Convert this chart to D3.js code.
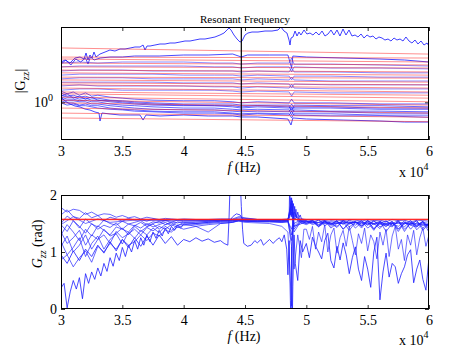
<!DOCTYPE html>
<html><head><meta charset="utf-8">
<script src="https://cdn.jsdelivr.net/npm/d3@7"></script>
<style>
html,body{margin:0;padding:0;background:#fff;}
svg{display:block;}
</style>
</head><body>
<svg id="c" width="474" height="355"></svg>
<script>
// ---------------- DATA ----------------
const xTickValues = [30000,35000,40000,45000,50000,55000,60000];
const xTickLabels = ["3","3.5","4","4.5","5","5.5","6"];
const phaseTickValues = [0,1,2];
const resonantFreq = 44700;

// top panel: fitted (red) magnitude lines, start/end values
const redFreq = [30000, 60000];
const redMagStart = [2.72,2.30,2.22,2.06,1.92,1.81,1.72,1.59,1.51,1.43,1.38,1.30,1.21,1.17,1.10,1.04,0.99,0.90,0.82,0.75];
const redMagEnd   = [2.43,2.26,2.10,1.99,1.88,1.75,1.65,1.56,1.45,1.38,1.30,1.21,1.14,1.08,1.01,0.95,0.90,0.82,0.76,0.70];

// top panel: measured magnitude lines
const t1Freq = [30000,30330,30730,31140,31550,31880,32040,32200,32360,32530,32690,32850,33180,33590,33990,34400,34810,35220,35630,36030,36440,36690,36850,37010,37260,37660,38070,38480,38890,39290,39700,40110,40520,40920,41330,41740,42150,42550,42960,43290,43530,43700,43860,44100,44350,44590,44760,45000,45240,45570,46060,46630,47200,47690,47930,48180,48420,48590,48670,48750,48910,49080,49240,49400,49560,49810,50050,50300,50540,50790,51030,51280,51520,51770,52010,52250,52500,52740,52990,53230,53480,53720,53970,54210,54460,54700,54950,55190,55430,55680,55920,56170,56410,56660,56900,57150,57390,57640,57880,58120,58370,58610,58860,59100,59350,59590,59840,60000];
const t1Mag = [2.100,2.179,2.062,2.261,2.303,2.219,2.478,2.179,2.389,2.261,2.524,2.303,2.433,2.524,2.619,2.571,2.668,2.668,2.717,2.768,2.768,2.871,2.619,2.819,2.819,2.871,2.925,2.925,2.979,2.979,3.034,3.091,3.091,3.148,3.207,3.207,3.266,3.327,3.452,3.581,3.784,3.926,3.784,3.452,3.207,3.034,3.091,3.452,3.581,3.647,3.647,3.715,3.715,3.784,4.000,3.715,3.581,3.148,2.871,3.266,3.327,3.715,3.389,3.647,3.452,3.784,3.516,3.581,3.452,3.647,3.452,3.715,3.389,3.516,3.784,3.452,3.784,3.389,3.854,3.452,3.784,3.389,3.452,3.327,3.516,3.266,3.452,3.327,3.389,3.207,3.327,3.266,3.148,3.207,3.091,3.266,3.148,3.207,3.091,3.327,3.091,2.979,3.148,2.925,3.091,2.871,2.979,2.819];

const t2Freq = [30000,30400,30800,31200,31600,32000,32200,32400,32700,33200,34000,35000,36000,38000,40000,42000,44000,44700,45200,47000,48500,48800,48900,50000,53000,56000,58000,60000];
const t2Mag = [2.024,2.179,1.987,2.219,2.100,2.261,2.024,2.303,2.179,2.261,2.303,2.303,2.345,2.345,2.389,2.389,2.433,2.303,2.389,2.389,2.389,1.881,2.345,2.303,2.261,2.219,2.179,2.100];

const lowFreq = [30000,30330,30730,31140,31550,31960,32360,32770,33100,33180,33340,34000,34810,35630,36440,36690,36930,38070,40000,42000,44000,44700,46000,48500,48750,48900,50000,53000,56000,58000,60000];
const lowMag = [1.103,1.025,0.970,0.935,0.918,0.884,0.868,0.837,0.822,0.709,0.822,0.807,0.792,0.792,0.792,0.722,0.792,0.778,0.792,0.778,0.778,0.764,0.764,0.736,0.659,0.750,0.736,0.722,0.709,0.696,0.696];

const midFreq = [30000,31500,33000,35000,37500,40000,42500,44000,44700,46000,48600,48800,49000,52000,56000,60000];
const midMag = [
 [2.06,2.10,2.06,2.10,2.10,2.10,2.06,2.06,2.02,2.06,2.06,2.26,2.02,2.02,1.99,1.95],
 [1.92,1.95,1.95,1.95,1.95,1.95,1.92,1.92,1.88,1.92,1.92,1.75,1.92,1.88,1.88,1.85],
 [1.78,1.81,1.81,1.81,1.78,1.78,1.78,1.78,1.75,1.78,1.75,1.88,1.75,1.75,1.72,1.72],
 [1.65,1.68,1.68,1.68,1.68,1.65,1.65,1.65,1.62,1.65,1.62,1.51,1.62,1.62,1.59,1.59],
 [1.54,1.57,1.57,1.57,1.54,1.54,1.54,1.54,1.51,1.54,1.51,1.59,1.51,1.48,1.48,1.48],
 [1.45,1.45,1.45,1.45,1.45,1.43,1.43,1.43,1.40,1.43,1.40,1.30,1.40,1.38,1.38,1.38],
 [1.35,1.38,1.35,1.35,1.35,1.35,1.33,1.33,1.30,1.33,1.30,1.40,1.30,1.28,1.28,1.28],
 [1.25,1.28,1.28,1.25,1.25,1.25,1.25,1.23,1.21,1.23,1.21,1.12,1.21,1.19,1.19,1.19]
];

const bundleFreq = [30000,30500,31000,31500,32000,32500,33000,34000,35000,36000,37500,40000,42500,44000,44700,46000,48600,48800,49000,52000,56000,60000];
const bundleMag = [
 [1.23,1.17,1.21,1.14,1.19,1.12,1.14,1.10,1.08,1.06,1.04,1.03,1.03,1.01,0.99,1.01,0.99,1.06,0.99,0.99,0.97,0.97],
 [1.19,1.12,1.14,1.10,1.12,1.08,1.08,1.04,1.03,1.01,0.99,0.97,0.97,0.97,0.95,0.95,0.95,0.87,0.95,0.94,0.94,0.92],
 [1.14,1.10,1.10,1.06,1.08,1.04,1.04,1.01,0.99,0.97,0.95,0.94,0.94,0.92,0.90,0.92,0.90,0.97,0.90,0.90,0.88,0.88],
 [1.10,1.06,1.06,1.03,1.04,1.01,1.01,0.97,0.95,0.94,0.92,0.90,0.90,0.88,0.87,0.88,0.87,0.79,0.87,0.85,0.85,0.84],
 [1.06,1.03,1.03,1.01,1.01,0.97,0.97,0.94,0.92,0.90,0.88,0.87,0.87,0.85,0.84,0.85,0.84,0.92,0.84,0.84,0.82,0.82],
 [1.03,0.99,0.99,0.95,0.97,0.94,0.94,0.90,0.88,0.87,0.85,0.84,0.84,0.82,0.81,0.82,0.81,0.75,0.81,0.81,0.79,0.79],
 [0.99,0.95,0.97,0.94,0.94,0.92,0.90,0.88,0.87,0.85,0.84,0.82,0.82,0.81,0.79,0.81,0.79,0.85,0.79,0.78,0.78,0.76],
 [1.12,1.17,1.08,1.12,1.06,1.10,1.04,1.03,1.01,0.99,0.97,0.95,0.94,0.94,0.92,0.94,0.92,0.84,0.92,0.92,0.90,0.90]
];

// bottom panel: phase
const phaseFitFreq = [30000, 60000];
const phaseFitStart = [1.566, 1.571, 1.576];
const phaseFitEnd   = [1.566, 1.571, 1.576];

const phaseFreq = [30000,30500,31000,31500,32000,32500,33000,33500,34000,34500,35000,35500,36000,36500,37000,37500,38000,38500,39000,39500,40000,41000,42000,43000,44000,44500,45000,46000,47000,48000,48500,48800,49000,49500,50000,50500,51000,51500,52000,52500,53000,53500,54000,54500,55000,55500,56000,56500,57000,57500,58000,58500,59000,59500,60000];
const phaseLines = [
 [1.78,1.70,1.75,1.73,1.66,1.70,1.64,1.67,1.66,1.61,1.64,1.60,1.62,1.58,1.61,1.59,1.57,1.59,1.58,1.57,1.58, 1.57,1.57,1.58,1.58,1.62,1.60,1.57,1.57,1.57,1.58,1.75,1.62,1.58, 1.57,1.56,1.57,1.55,1.57,1.56,1.55,1.57,1.56,1.54,1.57,1.55,1.56,1.53,1.57,1.55,1.56,1.52,1.56,1.55,1.54],
 [1.65,1.74,1.62,1.59,1.69,1.60,1.64,1.55,1.61,1.58,1.54,1.59,1.56,1.57,1.54,1.58,1.56,1.55,1.57,1.56,1.57, 1.57,1.56,1.57,1.57,1.60,1.59,1.57,1.56,1.56,1.57,1.90,1.50,1.56, 1.55,1.52,1.56,1.50,1.55,1.53,1.49,1.56,1.51,1.55,1.47,1.54,1.50,1.55,1.46,1.53,1.49,1.55,1.44,1.52,1.50],
 [1.50,1.63,1.55,1.42,1.58,1.49,1.44,1.56,1.50,1.47,1.54,1.49,1.52,1.55,1.48,1.53,1.51,1.55,1.52,1.56,1.55, 1.55,1.54,1.56,1.56,1.58,1.57,1.56,1.56,1.55,1.56,1.30,1.65,1.55, 1.53,1.56,1.48,1.54,1.51,1.45,1.55,1.50,1.53,1.42,1.55,1.48,1.52,1.45,1.54,1.40,1.51,1.48,1.55,1.38,1.50],
 [1.48,1.36,1.55,1.45,1.33,1.50,1.40,1.47,1.43,1.51,1.40,1.49,1.46,1.52,1.45,1.50,1.54,1.48,1.53,1.51,1.54, 1.54,1.55,1.55,1.56,1.57,1.56,1.55,1.55,1.55,1.56,1.85,1.45,1.55, 1.50,1.55,1.45,1.53,1.48,1.55,1.40,1.52,1.47,1.55,1.42,1.50,1.54,1.36,1.50,1.45,1.55,1.40,1.52,1.46,1.48],
 [1.30,1.48,1.35,1.20,1.40,1.28,1.46,1.38,1.30,1.44,1.40,1.35,1.47,1.42,1.50,1.44,1.48,1.52,1.46,1.53,1.51, 1.52,1.54,1.55,1.55,1.56,1.55,1.55,1.55,1.54,1.55,1.10,1.70,1.55, 1.54,1.50,1.56,1.46,1.53,1.50,1.55,1.44,1.52,1.49,1.55,1.40,1.53,1.48,1.50,1.55,1.36,1.52,1.47,1.54,1.43],
 [1.35,1.15,1.25,1.38,1.12,1.30,1.22,1.40,1.28,1.33,1.42,1.30,1.45,1.36,1.44,1.49,1.40,1.48,1.51,1.46,1.52, 1.50,1.52,1.53,1.54,1.56,1.55,1.54,1.54,1.54,1.55,1.95,1.40,1.54, 1.52,1.55,1.47,1.54,1.50,1.43,1.55,1.49,1.53,1.45,1.55,1.50,1.41,1.54,1.47,1.52,1.44,1.55,1.39,1.50,1.46],
 [1.10,1.28,1.00,1.12,1.30,1.05,1.22,1.30,1.15,1.36,1.25,1.32,1.40,1.30,1.43,1.37,1.45,1.40,1.48,1.43,1.47, 1.48,1.50,1.52,1.53,1.55,1.54,1.54,1.54,1.53,1.54,1.20,1.60,1.53, 1.55,1.48,1.52,1.55,1.45,1.53,1.49,1.55,1.42,1.52,1.48,1.55,1.44,1.50,1.53,1.40,1.51,1.48,1.55,1.42,1.50],
 [1.18,0.95,1.08,1.25,0.92,1.15,1.28,1.05,1.22,1.32,1.14,1.35,1.24,1.38,1.30,1.42,1.34,1.45,1.38,1.47,1.49, 1.45,1.48,1.50,1.52,1.55,1.54,1.53,1.53,1.52,1.53,1.70,1.35,1.52, 1.50,1.54,1.44,1.52,1.48,1.55,1.40,1.50,1.54,1.46,1.52,1.38,1.54,1.48,1.44,1.55,1.40,1.50,1.46,1.53,1.35],
 [0.86,0.95,0.74,0.90,1.02,0.82,1.10,1.00,1.15,1.05,1.22,1.12,1.18,1.30,1.20,1.33,1.28,1.38,1.35,1.44,1.40, 1.45,1.35,1.50,1.52,1.55,1.54,1.53,1.53,1.52,1.53,1.40,1.60,1.52, 1.48,1.53,1.45,1.55,1.42,1.50,1.53,1.38,1.52,1.46,1.55,1.41,1.50,1.45,1.53,1.36,1.52,1.47,1.44,1.54,1.40]
];

const l1Freq = [30000,30250,30500,30750,31000,31250,31500,31750,32000,32250,32500,32750,33000,33250,33500,33750,34000,34250,34500,34750,35000,35250,35500,35750,36000,36250,36500,36750,37000,37250,37500,37750,38000,38250,38500,38750,39000,39250,39500,39750,40000,41000,42000,43000,43800,44000,44300,44600,44800,46000,47000,48000,48500,48800,49000,50000,52000,54000,56000,58000,60000];
const l1Phase = [0.37,0.45,0.02,0.30,0.50,0.35,0.55,0.18,0.62,0.45,0.65,0.52,0.72,0.58,0.80,0.66,0.90,0.75,0.98,0.85,1.08,0.92,1.12,1.00,1.20,1.05,1.25,1.12,1.30,1.18,1.35,1.24,1.38,1.28,1.42,1.32,1.45,1.38,1.47,1.42,1.49,1.50,1.52,1.54,1.56,1.62,1.67,1.65,1.58,1.57,1.57,1.56,1.56,1.80,1.45,1.53,1.50,1.52,1.49,1.51,1.48];

const fineFreq = [50000,50250,50500,50750,51000,51250,51500,51750,52000,52250,52500,52750,53000,53250,53500,53750,54000,54250,54500,54750,55000,55250,55500,55750,56000,56250,56500,56750,57000,57250,57500,57750,58000,58250,58500,58750,59000,59250,59500,59750,60000];

const l2FreqHead = [30000,30500,31000,31500,32000,32500,33000,33500,34000,34500,35000,35500,36000,36500,37000,37500,38000,38500,39000,39500,40000,40500,41000,41500,42000,42500,43000,43300,43600,43700,43800,44600,44700,44800,44900,45200,45500,45800,46000,46300,46500,46800,47000,47300,47500,47800,48000,48200,48400,48500,48600,48700,48750,48800,48850,48900,49000,49100,49300,49500,49700];
const l2PhaseHead = [0.95,0.80,1.02,0.85,1.05,0.92,1.12,0.98,1.18,1.02,1.22,1.08,1.25,1.10,1.28,1.12,1.30,1.15,1.27,1.12,1.22,1.18,1.25,1.19,1.23,1.17,1.20,1.15,1.12,1.60,2.30,2.30,1.80,1.40,1.15,1.10,1.12,1.20,1.16,1.22,1.12,1.18,1.22,1.15,1.20,1.25,1.18,1.30,1.05,0.60,1.20,0.15,-0.30,1.10,-0.30,0.40,1.30,0.80,0.50,1.20,1.00];
const l2PhaseTail = [1.15,0.90,1.26,1.10,1.00,0.88,1.20,1.33,0.85,0.72,1.10,0.86,1.16,0.95,0.62,0.90,1.09,0.70,0.50,0.92,0.70,0.38,1.00,1.26,0.16,0.65,0.98,0.56,0.80,0.74,0.45,0.62,0.74,0.95,1.04,0.46,0.70,0.86,0.52,0.33,0.91];

const l3FreqHead = [30000,31000,32000,33000,34000,36000,38000,40000,42000,44000,45000,47000,48000,48500,48800,48900,49000,49300,49600,49800];
const l3PhaseHead = [1.48,1.62,1.50,1.58,1.52,1.56,1.55,1.56,1.55,1.56,1.52,1.50,1.45,1.35,0.05,1.60,0.70,1.30,0.90,1.40];
const l3PhaseTail = [1.40,1.22,1.45,1.05,1.35,1.18,1.48,1.00,1.30,1.42,0.98,1.25,1.38,1.10,1.45,1.20,0.95,1.32,1.15,1.42,1.02,1.30,1.18,0.88,1.35,1.12,1.40,0.92,1.28,1.45,1.05,1.22,0.85,1.30,1.12,1.38,0.95,1.25,1.42,1.10,1.30];

const glitchFreq = [48500,48600,48650,48700,48750,48800,48850,48900,48950,49000,49050,49100,49150,49200,49300,49400,49500,49600,49800];
const glitchPhase = [1.57,1.60,2.30,1.65,1.95,1.62,1.90,1.66,1.85,1.65,1.80,1.62,1.75,1.60,1.70,1.60,1.65,1.58,1.57];

// ---------------- DRAW ----------------
const FONT = '"Liberation Serif", serif';
const svg = d3.select("#c");
const L = 61, R = 429;
const top1 = 27, bot1 = 140, top2 = 195, bot2 = 309;
const x = d3.scaleLinear().domain([30000,60000]).range([L,R]);
const yTop = d3.scaleLog().domain([0.5,4]).range([bot1,top1]);
const yBot = d3.scaleLinear().domain([0,2]).range([bot2,top2]);

const BLUE = "#1f1fff", RED = "#ff1a1a";
const defs = svg.append("defs");
defs.append("clipPath").attr("id","clipT").append("rect").attr("x",L).attr("y",top1).attr("width",R-L).attr("height",bot1-top1);
defs.append("clipPath").attr("id","clipB").append("rect").attr("x",L).attr("y",top2).attr("width",R-L).attr("height",bot2-top2);

const zip = (a,b) => a.map((v,i)=>[v,b[i]]).filter(d=>d[1]!==undefined);
const lineT = d3.line().x(d=>x(d[0])).y(d=>yTop(d[1]));
const lineB = d3.line().x(d=>x(d[0])).y(d=>yBot(d[1]));

// top panel
const gT = svg.append("g").attr("clip-path","url(#clipT)");
function drawT(data,color,w,op){ gT.append("path").attr("d",lineT(data)).attr("fill","none").attr("stroke",color).attr("stroke-width",w).attr("stroke-opacity",op); }
bundleMag.forEach(m=>drawT(zip(bundleFreq,m),BLUE,0.8,0.85));
midMag.forEach(m=>drawT(zip(midFreq,m),BLUE,0.7,0.75));
drawT(zip(lowFreq,lowMag),BLUE,0.9,0.9);
drawT(zip(t2Freq,t2Mag),BLUE,0.9,0.9);
drawT(zip(t1Freq,t1Mag),BLUE,0.9,0.95);
redMagStart.forEach((s,i)=>drawT(zip(redFreq,[s,redMagEnd[i]]),RED,0.7,0.7));
svg.append("line").attr("x1",x(resonantFreq)).attr("x2",x(resonantFreq)).attr("y1",top1).attr("y2",bot1).attr("stroke","#000").attr("stroke-width",1.2);

// bottom panel
const gB = svg.append("g").attr("clip-path","url(#clipB)");
function drawB(data,color,w,op){ gB.append("path").attr("d",lineB(data)).attr("fill","none").attr("stroke",color).attr("stroke-width",w).attr("stroke-opacity",op); }
phaseLines.forEach(p=>drawB(zip(phaseFreq,p),BLUE,0.8,0.85));
drawB(zip(l1Freq,l1Phase),BLUE,0.9,0.9);
drawB(zip(l2FreqHead.concat(fineFreq),l2PhaseHead.concat(l2PhaseTail)),BLUE,0.9,0.9);
drawB(zip(l3FreqHead.concat(fineFreq),l3PhaseHead.concat(l3PhaseTail)),BLUE,0.8,0.8);
drawB(zip(glitchFreq,glitchPhase),BLUE,0.9,0.9);
phaseFitStart.forEach((s,i)=>drawB(zip(phaseFitFreq,[s,phaseFitEnd[i]]),RED,0.8,0.9));

// axes
function styleAxis(g){
  g.attr("font-family",null).attr("font-size",null);
  g.select(".domain").remove();
  g.selectAll(".tick line").attr("stroke","#000").attr("stroke-width",0.8);
  g.selectAll("text").attr("fill","#000").style("font-family",FONT).style("font-size","14px");
}
function xAxes(yb, yt){
  svg.append("g").attr("transform",`translate(0,${yb})`)
    .call(d3.axisBottom(x).tickValues(xTickValues).tickFormat((d,i)=>xTickLabels[i]).tickSizeInner(-4).tickSizeOuter(0).tickPadding(6)).call(styleAxis);
  svg.append("g").attr("transform",`translate(0,${yt})`)
    .call(d3.axisTop(x).tickValues(xTickValues).tickFormat("").tickSizeInner(-4).tickSizeOuter(0)).call(styleAxis);
}
xAxes(bot1, top1);
xAxes(bot2, top2);

svg.append("g").attr("transform",`translate(${L},0)`).call(d3.axisLeft(yTop).tickValues([1]).tickFormat("").tickSizeInner(-4).tickSizeOuter(0)).call(styleAxis);
svg.append("g").attr("transform",`translate(${R},0)`).call(d3.axisRight(yTop).tickValues([1]).tickFormat("").tickSizeInner(-4).tickSizeOuter(0)).call(styleAxis);
svg.append("g").attr("transform",`translate(${L},0)`).call(d3.axisLeft(yBot).tickValues(phaseTickValues).tickFormat(d3.format("d")).tickSizeInner(-4).tickSizeOuter(0).tickPadding(4)).call(styleAxis);
svg.append("g").attr("transform",`translate(${R},0)`).call(d3.axisRight(yBot).tickValues(phaseTickValues).tickFormat("").tickSizeInner(-4).tickSizeOuter(0)).call(styleAxis);

[[top1,bot1],[top2,bot2]].forEach(([t,b])=>{
  svg.append("rect").attr("x",L+0.5).attr("y",t+0.5).attr("width",R-L-1).attr("height",b-t-1).attr("fill","none").attr("stroke","#000").attr("stroke-width",1);
});

function txt(xp,yp,size,anchor){
  return svg.append("text").attr("x",xp).attr("y",yp).attr("text-anchor",anchor||"start")
    .style("font-family",FONT).style("font-size",size+"px").attr("fill","#000");
}

const t0 = txt(53,107,14,"end");
t0.append("tspan").text("10");
t0.append("tspan").attr("dy",-6).style("font-size","10px").text("0");

txt(245,23,11,"middle").text("Resonant Frequency");

[172,341].forEach(yy=>{
  const t = txt(244,yy,14,"middle");
  t.append("tspan").style("font-style","italic").text("f");
  t.append("tspan").text(" (Hz)");
});
[177,345].forEach(yy=>{
  const t = txt(399,yy,14,"start");
  t.append("tspan").text("x 10");
  t.append("tspan").attr("dy",-7).style("font-size","10px").text("4");
});

const ly1 = txt(0,0,14,"middle").attr("transform","translate(25,81) rotate(-90)");
ly1.append("tspan").text("|G");
ly1.append("tspan").attr("dy",4).style("font-size","10px").text("zz");
ly1.append("tspan").attr("dy",-4).text("|");

const ly2 = txt(0,0,14,"middle").attr("transform","translate(42,244) rotate(-90)");
ly2.append("tspan").style("font-style","italic").text("G");
ly2.append("tspan").attr("dy",4).style("font-size","10px").style("font-style","italic").text("zz");
ly2.append("tspan").attr("dy",-4).text("  (rad)");
</script>
</body></html>
